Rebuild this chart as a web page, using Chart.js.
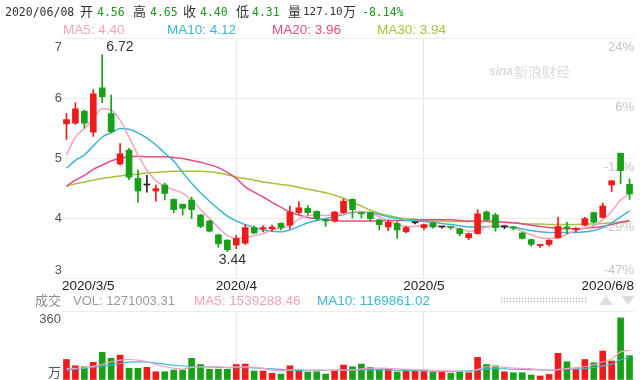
<!DOCTYPE html>
<html>
<head>
<meta charset="utf-8">
<script src="https://cdn.jsdelivr.net/npm/chart.js@4.4.0/dist/chart.umd.min.js"></script>
<style>
  body { margin: 0; background: #fff; }
  #wrap { position: relative; width: 640px; height: 380px; overflow: hidden; font-family: "Liberation Sans", Arial, sans-serif; }
  .t { position: absolute; white-space: nowrap; line-height: 16px; }
  .mono { font-family: "DejaVu Sans Mono", monospace; font-size: 11.5px; color: #333; }
  .cjk { font-family: "Noto Sans CJK SC", sans-serif; font-size: 13px; color: #333; }
  .up { color: #1a9a1a; }
  .lg { font-size: 13.5px; }
  #mainChart { position: absolute; left: 0; top: 0; }
  #volChart { position: absolute; left: 0; top: 296px; }
  .tri-up { position: absolute; width: 0; height: 0; border-left: 7px solid transparent; border-right: 7px solid transparent; border-bottom: 9px solid #ddd; }
  .tri-dn { position: absolute; width: 0; height: 0; border-left: 7px solid transparent; border-right: 7px solid transparent; border-top: 9px solid #ddd; }
  .dots { position: absolute; background-image: radial-gradient(circle, #c4c4c4 0.8px, transparent 1.1px); background-size: 3px 3px; }
</style>
</head>
<body>
<div id="wrap">
  <canvas id="mainChart" width="640" height="296"></canvas>
  <canvas id="volChart" width="640" height="84"></canvas>

  <!-- top info line -->
  <span class="t mono" style="left:5px; top:4px;">2020/06/08</span>
  <span class="t cjk" style="left:80px; top:3px;">开</span>
  <span class="t mono up" style="left:97px; top:4px;">4.56</span>
  <span class="t cjk" style="left:133px; top:3px;">高</span>
  <span class="t mono up" style="left:150px; top:4px;">4.65</span>
  <span class="t cjk" style="left:183px; top:3px;">收</span>
  <span class="t mono up" style="left:200px; top:4px;">4.40</span>
  <span class="t cjk" style="left:236px; top:3px;">低</span>
  <span class="t mono up" style="left:252px; top:4px;">4.31</span>
  <span class="t cjk" style="left:288px; top:3px;">量</span>
  <span class="t mono" style="left:303px; top:4px; font-size:11px;">127.10</span>
  <span class="t cjk" style="left:343px; top:3px;">万</span>
  <span class="t mono up" style="left:362px; top:4px;">-8.14%</span>

  <!-- MA legend -->
  <span class="t lg" style="left:63px; top:22px; color:#f2a3bf;">MA5: 4.40</span>
  <span class="t lg" style="left:167px; top:22px; color:#3db6d6;">MA10: 4.12</span>
  <span class="t lg" style="left:272px; top:22px; color:#e64d86;">MA20: 3.96</span>
  <span class="t lg" style="left:377px; top:22px; color:#a6c23a;">MA30: 3.94</span>

  <!-- watermark -->
  <span class="t" style="left:489px; top:63px; color:#dcdcdc; font-size:12px; font-style:italic; font-weight:bold;">sina</span>
  <span class="t cjk" style="left:514px; top:63px; color:#dcdcdc; font-size:14px;">新浪财经</span>

  <!-- volume header -->
  <span class="t cjk" style="left:35px; top:292px; color:#8c8c8c;">成交</span>
  <span class="t" style="left:73px; top:293px; color:#9a9a9a; font-size:13px;">VOL: 1271003.31</span>
  <span class="t" style="left:194px; top:293px; color:#f2a3bf; font-size:13.5px;">MA5: 1539288.46</span>
  <span class="t" style="left:317px; top:293px; color:#3db6d6; font-size:13.5px;">MA10: 1169861.02</span>
  <div class="dots" style="left:500px; top:297px; width:88px; height:7px;"></div>
  <div class="tri-up" style="left:599px; top:296px;"></div>
  <div class="tri-dn" style="left:621px; top:296px;"></div>
</div>

<script>
// ================= DATA =================
var dates = [
  "2020/3/5", "2020/3/6", "2020/3/9", "2020/3/10", "2020/3/11", "2020/3/12", "2020/3/13", "2020/3/16",
  "2020/3/17", "2020/3/18", "2020/3/19", "2020/3/20", "2020/3/23", "2020/3/24", "2020/3/25", "2020/3/26",
  "2020/3/27", "2020/3/30", "2020/3/31", "2020/4/1", "2020/4/2", "2020/4/3", "2020/4/7", "2020/4/8",
  "2020/4/9", "2020/4/10", "2020/4/13", "2020/4/14", "2020/4/15", "2020/4/16", "2020/4/17", "2020/4/20",
  "2020/4/21", "2020/4/22", "2020/4/23", "2020/4/24", "2020/4/27", "2020/4/28", "2020/4/29", "2020/4/30",
  "2020/5/6", "2020/5/7", "2020/5/8", "2020/5/11", "2020/5/12", "2020/5/13", "2020/5/14", "2020/5/15",
  "2020/5/18", "2020/5/19", "2020/5/20", "2020/5/21", "2020/5/22", "2020/5/25", "2020/5/26", "2020/5/27",
  "2020/5/28", "2020/5/29", "2020/6/1", "2020/6/2", "2020/6/3", "2020/6/4", "2020/6/5", "2020/6/8"
];

var opens = [
  5.57, 5.58, 5.78, 5.43, 6.17, 5.74, 4.90, 5.13, 4.66, 4.55, 4.45, 4.55, 4.31, 4.23, 4.30, 4.05,
  3.95, 3.72, 3.63, 3.55, 3.58, 3.84, 3.82, 3.82, 3.91, 3.88, 4.09, 4.16, 4.11, 3.97, 3.95, 4.09,
  4.31, 4.09, 4.09, 3.97, 3.85, 3.91, 3.77, 3.92, 3.84, 3.92, 3.85, 3.85, 3.82, 3.67, 3.74, 4.10,
  4.05, 3.85, 3.85, 3.75, 3.64, 3.54, 3.56, 3.67, 3.85, 3.81, 3.88, 4.09, 4.01, 4.55, 5.08, 4.56
];
var highs = [
  5.74, 5.92, 5.80, 6.14, 6.72, 6.05, 5.24, 5.16, 4.80, 4.71, 4.55, 4.58, 4.32, 4.23, 4.35, 4.06,
  3.96, 3.73, 3.64, 3.71, 3.89, 3.87, 3.87, 3.88, 3.92, 4.20, 4.27, 4.21, 4.12, 3.98, 4.11, 4.32,
  4.32, 4.10, 4.10, 3.98, 3.97, 3.94, 3.86, 3.93, 3.90, 3.93, 3.86, 3.85, 3.83, 3.75, 4.14, 4.12,
  4.08, 3.87, 3.86, 3.76, 3.65, 3.56, 3.64, 4.01, 3.93, 3.84, 4.01, 4.10, 4.25, 4.63, 5.08, 4.65
];
var lows = [
  5.31, 5.56, 5.50, 5.36, 5.92, 5.42, 4.88, 4.64, 4.26, 4.43, 4.28, 4.30, 4.09, 4.05, 3.99, 3.84,
  3.77, 3.51, 3.44, 3.49, 3.56, 3.74, 3.77, 3.78, 3.80, 3.82, 4.07, 4.05, 3.96, 3.86, 3.93, 4.08,
  4.00, 4.00, 3.95, 3.80, 3.79, 3.66, 3.75, 3.90, 3.80, 3.83, 3.83, 3.81, 3.70, 3.64, 3.73, 3.96,
  3.78, 3.82, 3.80, 3.65, 3.53, 3.51, 3.53, 3.66, 3.74, 3.77, 3.87, 3.92, 4.00, 4.44, 4.57, 4.31
];
var closes = [
  5.64, 5.82, 5.58, 6.07, 6.02, 5.44, 5.07, 4.68, 4.45, 4.55, 4.49, 4.41, 4.14, 4.16, 4.14, 3.86,
  3.78, 3.57, 3.47, 3.66, 3.84, 3.75, 3.84, 3.85, 3.84, 4.10, 4.17, 4.09, 3.99, 3.95, 4.10, 4.28,
  4.14, 4.07, 3.99, 3.89, 3.93, 3.80, 3.84, 3.92, 3.89, 3.85, 3.85, 3.84, 3.74, 3.74, 4.07, 3.97,
  3.84, 3.85, 3.83, 3.66, 3.56, 3.56, 3.63, 3.86, 3.83, 3.83, 3.99, 3.93, 4.20, 4.62, 4.79, 4.40
];

var ma5 = [
  5.05, 5.35, 5.49, 5.66, 5.82, 5.80, 5.63, 5.35, 5.05, 4.80, 4.62, 4.53, 4.47, 4.41, 4.30, 4.14,
  3.99, 3.84, 3.71, 3.66, 3.67, 3.71, 3.74, 3.80, 3.83, 3.88, 3.98, 4.04, 4.05, 4.04, 4.06, 4.07,
  4.10, 4.11, 4.08, 4.02, 3.95, 3.90, 3.86, 3.86, 3.88, 3.87, 3.86, 3.85, 3.82, 3.78, 3.80, 3.85,
  3.87, 3.88, 3.84, 3.78, 3.72, 3.67, 3.66, 3.67, 3.73, 3.79, 3.83, 3.87, 3.97, 4.11, 4.30, 4.40
];
var ma10 = [
  4.83, 4.96, 5.05, 5.20, 5.35, 5.42, 5.49, 5.48, 5.42, 5.33, 5.22, 5.08, 4.95, 4.76, 4.58, 4.42,
  4.28, 4.15, 4.03, 3.95, 3.89, 3.84, 3.80, 3.78, 3.77, 3.80, 3.86, 3.92, 3.96, 3.99, 4.02, 4.06,
  4.09, 4.10, 4.09, 4.06, 4.02, 3.99, 3.96, 3.95, 3.94, 3.93, 3.91, 3.89, 3.87, 3.85, 3.85, 3.86,
  3.86, 3.86, 3.85, 3.82, 3.79, 3.77, 3.76, 3.76, 3.76, 3.76, 3.77, 3.79, 3.84, 3.92, 4.02, 4.12
];
var ma20 = [
  4.53, 4.63, 4.71, 4.81, 4.88, 4.95, 5.00, 5.02, 5.03, 5.02, 5.02, 5.02, 5.01, 4.99, 4.96, 4.93,
  4.89, 4.84, 4.76, 4.66, 4.52, 4.43, 4.35, 4.26, 4.18, 4.10, 4.05, 4.01, 3.99, 3.97, 3.96, 3.95,
  3.95, 3.95, 3.95, 3.95, 3.96, 3.96, 3.96, 3.97, 3.97, 3.97, 3.97, 3.97, 3.96, 3.95, 3.95, 3.95,
  3.94, 3.93, 3.92, 3.90, 3.88, 3.86, 3.84, 3.83, 3.82, 3.82, 3.83, 3.84, 3.86, 3.89, 3.93, 3.96
];
var ma30 = [
  4.53, 4.57, 4.60, 4.63, 4.66, 4.68, 4.70, 4.72, 4.73, 4.75, 4.76, 4.77, 4.78, 4.78, 4.78, 4.78,
  4.77, 4.75, 4.72, 4.68, 4.66, 4.63, 4.60, 4.58, 4.56, 4.54, 4.51, 4.48, 4.45, 4.42, 4.38, 4.33,
  4.26, 4.20, 4.13, 4.08, 4.04, 4.01, 3.99, 3.98, 3.96, 3.95, 3.95, 3.94, 3.94, 3.94, 3.94, 3.94,
  3.93, 3.93, 3.92, 3.91, 3.90, 3.90, 3.89, 3.89, 3.89, 3.89, 3.90, 3.90, 3.91, 3.92, 3.93, 3.94
];

// volume in 万
var volumes = [
  107, 74, 69, 92, 144, 113, 130, 61, 61, 66, 43, 43, 52, 52, 113, 81,
  56, 56, 56, 81, 83, 47, 47, 35, 31, 74, 52, 40, 43, 31, 52, 78,
  69, 83, 66, 56, 56, 42, 56, 52, 52, 40, 40, 35, 40, 38, 118, 81,
  74, 43, 38, 38, 26, 21, 29, 139, 95, 57, 107, 90, 151, 99, 324, 127.1
];
var volMa5 = [
  60, 61, 64, 72, 81, 95, 104, 107, 104, 95, 81, 69, 61, 57, 66, 69,
  69, 69, 66, 69, 69, 66, 61, 52, 48, 52, 55, 52, 52, 51, 50, 52,
  53, 58, 62, 62, 61, 58, 55, 53, 52, 50, 48, 47, 45, 44, 55, 69,
  70, 66, 62, 61, 58, 55, 50, 55, 60, 65, 69, 80, 95, 110, 147, 154
];
var volMa10 = [
  52, 56, 60, 66, 72, 79, 86, 93, 95, 93, 88, 82, 77, 73, 70, 69,
  68, 66, 65, 64, 64, 63, 61, 58, 55, 52, 49, 48, 50, 51, 51, 52,
  52, 53, 53, 53, 52, 51, 50, 49, 48, 46, 45, 44, 46, 48, 52, 58,
  60, 58, 56, 55, 54, 53, 52, 54, 56, 57, 60, 66, 74, 82, 105, 117
];

var priceTicks = [7, 6, 5, 4, 3];
var pctTicks = ["24%", "6%", "-12%", "-29%", "-47%"];
var xTickIdx = [0, 19, 40, 63];
var xTickText = ["2020/3/5", "2020/4", "2020/5", "2020/6/8"];
var volTicks = [360, 0];
var volTickText = ["360", "万"];

// ================= COLORS =================
var RED = "#ee1b1b";
var GREEN = "#18a018";
var FLAT = "#222222";
var C_MA5 = "#f2a3bf";
var C_MA10 = "#3db6d6";
var C_MA20 = "#e64d86";
var C_MA30 = "#a6c23a";
var GRID = "#ececec";

function candleColor(i) {
  if (closes[i] > opens[i]) return RED;
  if (closes[i] < opens[i]) return GREEN;
  return FLAT;
}
function volColor(i) {
  if (closes[i] > opens[i]) return RED;
  if (closes[i] < opens[i]) return GREEN;
  return (i > 0 && closes[i] < closes[i - 1]) ? GREEN : RED;
}

var candleColors = dates.map(function (d, i) { return candleColor(i); });
var volColors = dates.map(function (d, i) { return volColor(i); });
var monthLines = xTickIdx.slice(1, -1);

function lineSet(label, data, color, width, order) {
  return {
    type: "line",
    label: label,
    data: data,
    borderColor: color,
    borderWidth: width,
    pointRadius: 0,
    fill: false,
    tension: 0.4,
    cubicInterpolationMode: "monotone",
    order: order
  };
}

function xScale() {
  return {
    type: "category",
    offset: true,
    border: { display: false },
    ticks: { display: false, autoSkip: false },
    grid: {
      offset: false,
      drawTicks: false,
      color: function (c) {
        return monthLines.indexOf(c.index) >= 0 ? "#e6e6e6" : "rgba(0,0,0,0)";
      }
    }
  };
}

// ================= MAIN LABEL PLUGIN =================
var mainLabels = {
  id: "mainLabels",
  beforeDatasetsDraw: function (chart) {
    var ctx = chart.ctx;
    var y = chart.scales.y;
    var area = chart.chartArea;
    ctx.save();
    ctx.font = "13px 'Liberation Sans', Arial, sans-serif";
    ctx.textBaseline = "middle";
    for (var i = 0; i < priceTicks.length; i++) {
      var py = y.getPixelForValue(priceTicks[i]);
      var shift = 0;
      if (priceTicks[i] === y.max) shift = 9;
      if (priceTicks[i] === y.min) shift = -8;
      ctx.textAlign = "right";
      ctx.fillStyle = "#555";
      ctx.fillText(String(priceTicks[i]), area.left, py + shift);
      ctx.fillStyle = "#c6c6c6";
      ctx.fillText(pctTicks[i], area.right, py + (priceTicks[i] === y.min ? -8 : 9));
    }
    ctx.restore();
  },
  afterDatasetsDraw: function (chart) {
    var ctx = chart.ctx;
    var x = chart.scales.x;
    var y = chart.scales.y;
    var area = chart.chartArea;
    ctx.save();
    // x labels
    ctx.font = "13.5px 'Liberation Sans', Arial, sans-serif";
    ctx.fillStyle = "#222";
    ctx.textBaseline = "middle";
    for (var i = 0; i < xTickIdx.length; i++) {
      var px = x.getPixelForValue(xTickIdx[i]);
      if (i === 0) { ctx.textAlign = "left"; px = area.left; }
      else if (i === xTickIdx.length - 1) { ctx.textAlign = "right"; px = area.right; }
      else ctx.textAlign = "center";
      ctx.fillText(xTickText[i], px, area.bottom + 8.5);
    }
    // max / min annotations
    var hi = Math.max.apply(null, highs);
    var lo = Math.min.apply(null, lows);
    var hiIdx = highs.indexOf(hi);
    var loIdx = lows.indexOf(lo);
    ctx.font = "14px 'Liberation Sans', Arial, sans-serif";
    ctx.fillStyle = "#333";
    ctx.textAlign = "left";
    ctx.fillText(hi.toFixed(2), x.getPixelForValue(hiIdx) + 4, y.getPixelForValue(hi) - 8);
    ctx.textAlign = "center";
    ctx.fillText(lo.toFixed(2), x.getPixelForValue(loIdx) + 5, y.getPixelForValue(lo) + 9);
    ctx.restore();
  }
};

// ================= MAIN CHART =================
var ctxMain = document.getElementById("mainChart").getContext("2d");
var mainChart = new Chart(ctxMain, {
  type: "bar",
  data: {
    labels: dates,
    datasets: [
      {
        label: "body",
        data: opens.map(function (o, i) { return [o, closes[i]]; }),
        backgroundColor: candleColors,
        barThickness: 6,
        minBarLength: 1,
        grouped: false,
        order: 0
      },
      {
        label: "wick",
        data: lows.map(function (l, i) { return [l, highs[i]]; }),
        backgroundColor: candleColors,
        barThickness: 1,
        grouped: false,
        order: 1
      },
      lineSet("MA5", ma5, C_MA5, 1.5, 2),
      lineSet("MA10", ma10, C_MA10, 1.5, 3),
      lineSet("MA20", ma20, C_MA20, 1.5, 4),
      lineSet("MA30", ma30, C_MA30, 1.5, 5)
    ]
  },
  options: {
    responsive: false,
    animation: false,
    layout: { padding: { left: 62, right: 6, top: 38, bottom: 18 } },
    plugins: { legend: { display: false }, tooltip: { enabled: false } },
    scales: {
      x: xScale(),
      y: {
        min: 3,
        max: 7,
        border: { display: false },
        ticks: { display: false, stepSize: 1 },
        grid: { drawTicks: false, color: GRID }
      }
    }
  },
  plugins: [mainLabels]
});

// ================= VOLUME LABEL PLUGIN =================
var volLabels = {
  id: "volLabels",
  beforeDatasetsDraw: function (chart) {
    var ctx = chart.ctx;
    var y = chart.scales.y;
    var area = chart.chartArea;
    ctx.save();
    ctx.fillStyle = "#555";
    ctx.textAlign = "right";
    ctx.textBaseline = "middle";
    for (var i = 0; i < volTicks.length; i++) {
      var py = y.getPixelForValue(volTicks[i]);
      ctx.font = i === 0 ? "13px 'Liberation Sans', Arial, sans-serif" : "13px 'Noto Sans CJK SC', sans-serif";
      ctx.fillText(volTickText[i], area.left - 1, py + (volTicks[i] === y.max ? 8 : -8));
    }
    ctx.restore();
  }
};

// ================= VOLUME CHART =================
var ctxVol = document.getElementById("volChart").getContext("2d");
var volChart = new Chart(ctxVol, {
  type: "bar",
  data: {
    labels: dates,
    datasets: [
      {
        label: "VOL",
        data: volumes,
        backgroundColor: volColors,
        barThickness: 6,
        grouped: false,
        order: 2
      },
      lineSet("MA5", volMa5, C_MA5, 1.2, 0),
      lineSet("MA10", volMa10, C_MA10, 1.2, 1)
    ]
  },
  options: {
    responsive: false,
    animation: false,
    layout: { padding: { left: 62, right: 6, top: 15, bottom: 0 } },
    plugins: { legend: { display: false }, tooltip: { enabled: false } },
    scales: {
      x: xScale(),
      y: {
        min: 0,
        max: 360,
        border: { display: false },
        ticks: { display: false, stepSize: 360 },
        grid: {
          drawTicks: false,
          color: function (c) { return c.tick.value === 360 ? GRID : "rgba(0,0,0,0)"; }
        }
      }
    }
  },
  plugins: [volLabels]
});
</script>
</body>
</html>
